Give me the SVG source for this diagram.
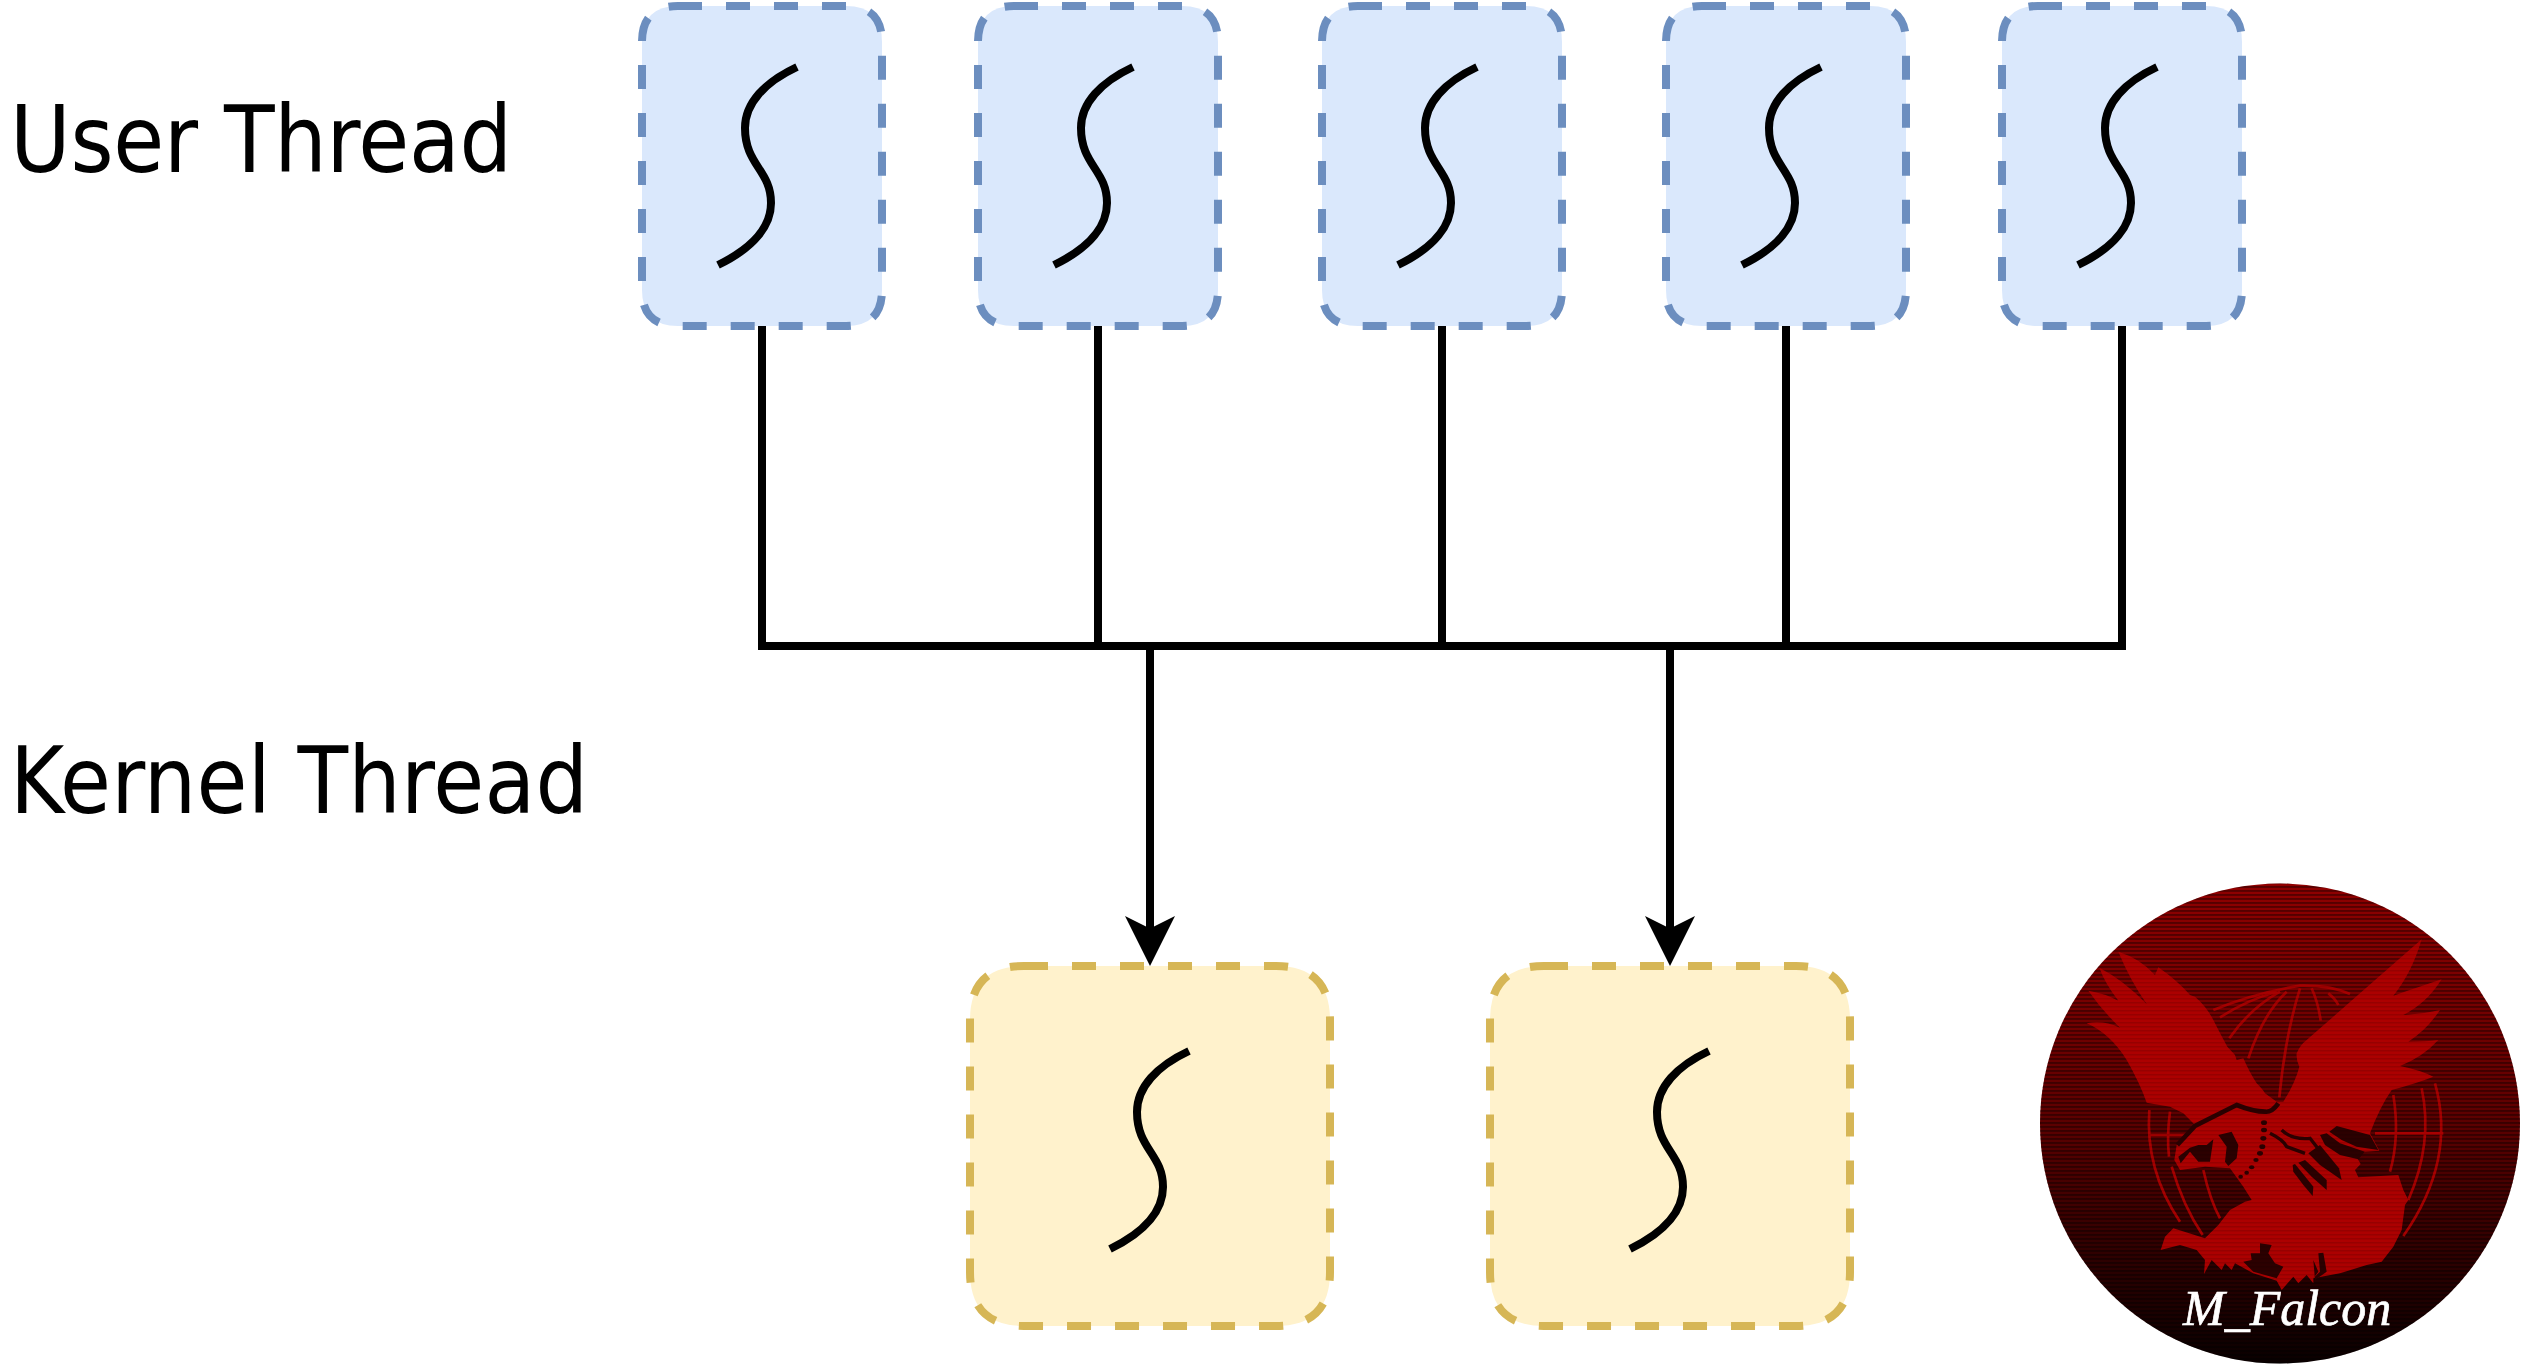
<svg xmlns="http://www.w3.org/2000/svg" xmlns:xlink="http://www.w3.org/1999/xlink" width="2524" height="1368" viewBox="0 0 2524 1368">
<style>
.lbl{font-family:"DejaVu Sans Condensed","DejaVu Sans",sans-serif;font-stretch:condensed;font-size:92px;fill:#000}
.c{fill:none;stroke:#000;stroke-width:8}
.u{fill:#dae8fc;stroke:#6c8ebf;stroke-width:8;stroke-dasharray:24 24}
.k{fill:#fff2cc;stroke:#d6b656;stroke-width:8;stroke-dasharray:24 24}
.w{fill:none;stroke:#000;stroke-width:8}
.gl{fill:none;stroke:#a80000;stroke-width:8}
.dk{fill:#2c0000}
.dl{fill:none;stroke:#2c0000;stroke-width:14}
.dt{fill:none;stroke:#2c0000;stroke-width:10}
</style>
<defs>
<path id="s" class="w" d="M718 265C755 247 771 225 771 203C771 170 745 165 745 128C745 103 765 82 797 67"/>
<path id="ub" class="u" d="M678 6L846 6Q882 6 882 42L882 290Q882 326 846 326L678 326Q642 326 642 290L642 42Q642 6 678 6Z"/>
<path id="kb" class="k" d="M1024 966L1276 966Q1330 966 1330 1020L1330 1272Q1330 1326 1276 1326L1024 1326Q970 1326 970 1272L970 1020Q970 966 1024 966Z"/>
<linearGradient id="bg" x1="0" y1="0" x2="0" y2="1">
<stop offset="0" stop-color="#900000"/><stop offset=".5" stop-color="#5c0000"/><stop offset=".8" stop-color="#2a0000"/><stop offset="1" stop-color="#080000"/>
</linearGradient>
<pattern id="scan" width="4" height="4" patternUnits="userSpaceOnUse" y="884">
<rect y="2" width="4" height="2" fill="#000" fill-opacity=".3"/>
</pattern>
<pattern id="scan2" width="4" height="4" patternUnits="userSpaceOnUse" y="884">
<rect y="2" width="4" height="1.500" fill="#000" fill-opacity=".12"/>
</pattern>
<clipPath id="cc"><circle cx="2280" cy="1123.500" r="240"/></clipPath>
</defs>
<rect width="2524" height="1368" fill="#fff"/>
<g id="label-user"><text class="lbl" x="10" y="172" textLength="502" lengthAdjust="spacing">User Thread</text></g>
<g id="label-kernel"><text class="lbl" x="10" y="813" textLength="578" lengthAdjust="spacing">Kernel Thread</text></g>

<g id="connectors">
<path class="c" d="M762 326V646M1098 326V646M1442 326V646M1786 326V646M2122 326V646M758 646H2126"/>
<path class="c" d="M1150 646V930M1670 646V930"/>
<path d="M1150 966L1125 916L1150 928.500L1175 916Z"/>
<path d="M1670 966L1645 916L1670 928.500L1695 916Z"/>
</g>

<g id="user-1"><use xlink:href="#ub" href="#ub"/><use href="#s" xlink:href="#s"/></g>
<g id="user-2" transform="translate(336 0)"><use href="#ub" xlink:href="#ub"/><use href="#s" xlink:href="#s"/></g>
<g id="user-3" transform="translate(680 0)"><use href="#ub" xlink:href="#ub"/><use href="#s" xlink:href="#s"/></g>
<g id="user-4" transform="translate(1024 0)"><use href="#ub" xlink:href="#ub"/><use href="#s" xlink:href="#s"/></g>
<g id="user-5" transform="translate(1360 0)"><use href="#ub" xlink:href="#ub"/><use href="#s" xlink:href="#s"/></g>

<g id="kernel-1"><use href="#kb" xlink:href="#kb"/><use href="#s" xlink:href="#s" transform="translate(392 984)"/></g>
<g id="kernel-2" transform="translate(520 0)"><use href="#kb" xlink:href="#kb"/><use href="#s" xlink:href="#s" transform="translate(392 984)"/></g>

<g id="logo">
<g clip-path="url(#cc)">
<rect x="2040" y="880" width="480" height="488" fill="url(#bg)"/>
<rect x="2040" y="880" width="480" height="488" fill="url(#scan)"/>
<g transform="translate(2020 870) scale(.33333)">
<g class="globe">
<path class="gl" d="M580 420Q700 370 840 347Q930 345 990 372"/>
<path class="gl" d="M600 442Q680 390 770 365M628 505Q690 415 780 365M685 565Q730 430 800 365M778 682Q795 500 840 355M902 452Q895 400 875 355M955 405Q945 385 925 370"/>
<path class="gl" d="M388 720Q375 900 480 1055M450 725Q440 800 447 860M385 795H495M455 890Q490 1010 548 1095M550 900Q570 990 600 1045"/>
<path class="gl" d="M1065 790H1270M1120 675Q1140 800 1110 905M1205 655Q1240 820 1165 990M1245 640Q1310 870 1150 1098"/>
</g>
<path id="eagle" fill="#ac0000" d="M200 460Q250 450 300 473Q245 420 205 362Q255 370 295 392Q255 340 238 293Q310 330 380 402Q330 330 295 245Q360 265 405 315L415 292Q470 330 510 375L525 380Q560 410 580 450Q600 490 622 530L645 555L650 570L670 565Q690 610 710 640Q730 660 735 670L770 695L790 695Q825 640 838 590Q828 570 830 550Q840 525 860 510Q1020 370 1205 208Q1175 310 1120 377Q1200 350 1265 328Q1220 400 1150 435Q1220 430 1260 420Q1220 480 1165 515Q1220 515 1255 510Q1210 560 1140 588Q1200 600 1240 620Q1190 640 1115 660Q1080 710 1050 790L1078 842L1035 845L1012 865L1022 882L1005 900L1015 922L1135 915L1150 960L1165 990L1155 1005L1145 1080L1120 1130L1085 1175L1040 1185L960 1210L880 1225L880 1240L860 1215L835 1240L820 1220L785 1260L770 1232L700 1210L645 1180L635 1200L615 1180L605 1200L575 1170L552 1212L555 1170L530 1140L480 1125L422 1140L435 1100L460 1075L555 1105L595 1065L630 1020L675 995L695 990L670 950L630 895L555 890L480 900L463 870L470 825L525 765L490 730L450 710L380 698Q360 640 320 570Q270 490 200 460Z"/>
<g class="marks">
<path class="dl" d="M775 700Q755 728 735 725Q700 725 650 705L525 768L472 825"/>
<path class="dk" d="M595 795L635 785L655 825L650 865L625 888L615 875L620 830Z"/>
<path class="dk" d="M475 860L510 833L535 825L560 825L580 808L570 875L535 875L510 845L482 880Z"/>
<ellipse class="dk" cx="732" cy="758" rx="9" ry="7"/><ellipse class="dk" cx="732" cy="780" rx="9" ry="7"/><ellipse class="dk" cx="730" cy="805" rx="9" ry="7"/><ellipse class="dk" cx="727" cy="830" rx="9" ry="7"/><ellipse class="dk" cx="720" cy="850" rx="9" ry="7"/><ellipse class="dk" cx="708" cy="870" rx="8" ry="6"/><ellipse class="dk" cx="695" cy="892" rx="8" ry="6"/><ellipse class="dk" cx="680" cy="908" rx="7" ry="6"/><ellipse class="dk" cx="662" cy="920" rx="7" ry="6"/>
<path class="dk" d="M928 785L950 768L1050 795L1075 840L1010 830L965 810Z"/>
<path class="dk" d="M900 795L920 790L960 820L1035 845L1015 868L960 855L915 825Z"/>
<path class="dk" d="M865 850L900 825L957 895L965 930L900 885Z"/>
<path class="dk" d="M835 878L855 870L920 930L920 960L875 920Z"/>
<path class="dk" d="M818 885L825 882L880 950L878 978L850 945L820 905Z"/>
<path class="dt" d="M750 790Q790 810 800 830L855 850M785 780Q815 810 870 805L905 850"/>
<path class="dk" d="M720 1120L755 1125L745 1150L765 1180L790 1190L770 1225L700 1205L670 1175L695 1170L692 1150L720 1150Z"/>
<path class="dk" d="M880 1170L895 1205L880 1225L900 1205L895 1150L910 1148L920 1205L885 1230Z"/>
</g>
</g>
<rect x="2040" y="880" width="480" height="488" fill="url(#scan2)"/>
<text x="2183" y="1325" font-family="'Liberation Serif',serif" font-style="italic" font-size="50" fill="#fff" stroke="#fff" stroke-width=".7">M_Falcon</text>
</g>
</g>
</svg>
